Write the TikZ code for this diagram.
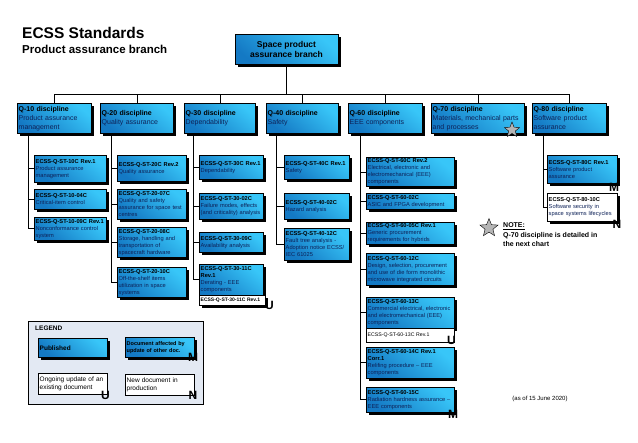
\documentclass[tikz,border=0pt]{standalone}
\usepackage{fontspec}
\setmainfont{Liberation Sans}
\usetikzlibrary{shadows, shapes.geometric, calc}

\definecolor{paLight}{HTML}{38C6F8}
\definecolor{paDark}{HTML}{1479C4}
\definecolor{paText}{HTML}{0E2258}
\definecolor{legendFill}{HTML}{E3E9F3}
\definecolor{starGray}{HTML}{B5B5B5}

\newcommand{\docfont}{\fontsize{5.7}{7}\selectfont}
\newcommand{\discfont}{\fontsize{7}{9}\selectfont}
\newcommand{\docid}[1]{{\bfseries\color{black}#1}}

\begin{document}
\begin{tikzpicture}[x=1pt, y=-1pt,
  pabox/.style={draw=black, line width=0.4pt, top color=paLight, bottom color=paDark, shading angle=-40,
    drop shadow={shadow xshift=2.5pt, shadow yshift=-2.5pt, fill=black, opacity=1},
    inner sep=1.5pt, text=paText},
  disc/.style={pabox, anchor=north west, align=left, minimum height=30pt, font=\discfont, text width=#1},
  stdbox/.style={pabox, anchor=north west, align=left, font=\docfont, text width=#1},
  newbox/.style={draw=black, fill=white, line width=0.4pt, anchor=north west, align=left,
    inner sep=1.5pt, font=\docfont, text=paText, text width=#1},
  flag/.style={font=\bfseries\fontsize{12}{12}\selectfont, inner sep=0pt},
  gstar/.style={star, star points=5, star point ratio=2.3, draw=black, fill=starGray, inner sep=0pt}]
  \useasboundingbox (0,0) rectangle (638,443);

  % Title
  \node[anchor=base west, inner sep=0, font=\bfseries\fontsize{15.5}{18}\selectfont] (title) at (22,39) {ECSS Standards};
  \node[anchor=base west, inner sep=0, font=\bfseries\fontsize{11.5}{14}\selectfont] (subtitle) at (22,54) {Product assurance branch};

  % Branch and disciplines
  \node[pabox, align=center, minimum width=103pt, minimum height=30pt, text=black,
    font=\bfseries\fontsize{8.5}{10}\selectfont] (root) at (286.5,49.5) {Space product\\assurance branch};

  \node[disc=71pt] (q10) at (17,103) {\docid{Q-10 discipline}\\Product assurance\\management};
  \node[disc=70pt] (q20) at (100,103) {\docid{Q-20 discipline}\\Quality assurance};
  \node[disc=68pt] (q30) at (184,103) {\docid{Q-30 discipline}\\Dependability};
  \node[disc=69pt] (q40) at (266,103) {\docid{Q-40 discipline}\\Safety};
  \node[disc=71pt] (q60) at (348,103) {\docid{Q-60 discipline}\\EEE components};
  \node[disc=90pt] (q70) at (431,103) {\docid{Q-70 discipline}\\Materials, mechanical parts\\and processes};
  \node[disc=71pt] (q80) at (532,103) {\docid{Q-80 discipline}\\Software product\\assurance};
  \node[gstar, minimum size=16pt] (q70star) at (512,130) {};

  \foreach \d in {q10,q20,q30,q40,q60,q70,q80}
    \draw (root.south) -- ++(0,29.5) -| (\d.north);

  % Q-10
  \node[stdbox=69pt, minimum height=27pt] (c10a) at (34,155) {\docid{ECSS-Q-ST-10C Rev.1}\\Product assurance\\management};
  \node[stdbox=69pt, minimum height=20pt] (c10b) at (34,189) {\docid{ECSS-Q-ST-10-04C}\\Critical-item control};
  \node[stdbox=69pt, minimum height=23pt] (c10c) at (34,217) {\docid{ECSS-Q-ST-10-09C Rev.1}\\Nonconformance control\\system};

  % Q-20
  \node[stdbox=66pt, minimum height=26pt] (c20a) at (117,155) {\docid{ECSS-Q-ST-20C Rev.2}\\Quality assurance};
  \node[stdbox=66pt, minimum height=30pt] (c20b) at (117,189) {\docid{ECSS-Q-ST-20-07C}\\Quality and safety\\assurance for space test\\centres};
  \node[stdbox=66pt, minimum height=30pt] (c20c) at (117,227) {\docid{ECSS-Q-ST-20-08C}\\Storage, handling and\\transportation of\\spacecraft hardware};
  \node[stdbox=66pt, minimum height=30pt] (c20d) at (117,267) {\docid{ECSS-Q-ST-20-10C}\\Off-the-shelf items\\utilization in space\\systems};

  % Q-30
  \node[stdbox=61pt, minimum height=24pt] (c30a) at (199,155) {\docid{ECSS-Q-ST-30C Rev.1}\\Dependability};
  \node[stdbox=61pt, minimum height=26pt] (c30b) at (199,193) {\docid{ECSS-Q-ST-30-02C}\\Failure modes, effects\\(and criticality) analysis};
  \node[stdbox=61pt, minimum height=20pt] (c30c) at (199,232) {\docid{ECSS-Q-ST-30-09C}\\Availability analysis};
  \node[stdbox=61pt, minimum height=31pt] (c30d) at (199,264) {\docid{ECSS-Q-ST-30-11C}\\\docid{Rev.1}\\Derating - EEE\\components};
  \node[newbox=63pt, minimum height=10pt, font=\bfseries\fontsize{5}{6}\selectfont, text=black,
    drop shadow={shadow xshift=2.5pt, shadow yshift=-2.5pt, fill=black, opacity=1}] (c30u) at (199,295) {ECSS-Q-ST-30-11C Rev.1};
  \node[flag] (flagc30) at (269.5,305) {U};

  % Q-40
  \node[stdbox=62pt, minimum height=24pt] (c40a) at (284,155) {\docid{ECSS-Q-ST-40C Rev.1}\\Safety};
  \node[stdbox=62pt, minimum height=26pt] (c40b) at (284,193) {\docid{ECSS-Q-ST-40-02C}\\Hazard analysis};
  \node[stdbox=62pt, minimum height=32pt] (c40c) at (284,228) {\docid{ECSS-Q-ST-40-12C}\\Fault tree analysis -\\Adoption notice ECSS/\\IEC 61025};

  % Q-60
  \node[stdbox=85pt, minimum height=28pt] (c60a) at (366,157) {\docid{ECSS-Q-ST-60C Rev.2}\\Electrical, electronic and\\electromechanical (EEE)\\components};
  \node[stdbox=85pt, minimum height=16pt] (c60b) at (366,193) {\docid{ECSS-Q-ST-60-02C}\\ASIC and FPGA development};
  \node[stdbox=85pt, minimum height=21pt] (c60c) at (366,222) {\docid{ECSS-Q-ST-60-05C Rev.1}\\Generic procurement\\requirements for hybrids};
  \node[stdbox=85pt, minimum height=32pt] (c60d) at (366,253) {\docid{ECSS-Q-ST-60-12C}\\Design, selection, procurement\\and use of die form monolithic\\microwave integrated circuits};
  \node[stdbox=85pt, minimum height=31pt] (c60e) at (366,297) {\docid{ECSS-Q-ST-60-13C}\\Commercial electrical, electronic\\and electromechanical (EEE)\\components};
  \node[newbox=85pt, minimum height=14pt, font=\fontsize{5.2}{6}\selectfont, text=black] (c60u) at (366,328) {ECSS-Q-ST-60-13C Rev.1};
  \node[flag] (flagc60u) at (451.5,340) {U};
  \node[stdbox=85pt, minimum height=31pt] (c60f) at (366,347) {\docid{ECSS-Q-ST-60-14C Rev.1}\\\docid{Corr.1}\\Relifing procedure -- EEE\\components};
  \node[stdbox=85pt, minimum height=25pt] (c60g) at (366,387) {\docid{ECSS-Q-ST-60-15C}\\Radiation hardness assurance --\\EEE components};
  \node[flag] (flagc60m) at (453,414.5) {M};

  % Q-80
  \node[stdbox=67pt, minimum height=28pt] (c80a) at (547,155) {\docid{ECSS-Q-ST-80C Rev.1}\\Software product\\assurance};
  \node[flag] (flagc80m) at (614,187) {M};
  \node[newbox=67pt, minimum height=28pt,
    drop shadow={shadow xshift=2.5pt, shadow yshift=-2.5pt, fill=black, opacity=1}] (c80b) at (547,193) {\docid{ECSS-Q-ST-80-10C}\\Software security in\\space systems lifecycles};
  \node[flag] (flagc80n) at (617,224.5) {N};

  % Trunks
  \foreach \c in {c10a,c10b,c10c} \draw ([xshift=11pt]q10.south west) |- (\c.west);
  \foreach \c in {c20a,c20b,c20c,c20d} \draw ([xshift=11pt]q20.south west) |- (\c.west);
  \foreach \c in {c30a,c30b,c30c,c30d} \draw ([xshift=9pt]q30.south west) |- (\c.west);
  \foreach \c in {c40a,c40b,c40c} \draw ([xshift=10pt]q40.south west) |- (\c.west);
  \foreach \c in {c60a,c60b,c60c,c60d,c60e,c60f,c60g} \draw ([xshift=12pt]q60.south west) |- (\c.west);
  \foreach \c in {c80a,c80b} \draw ([xshift=11pt]q80.south west) |- (\c.west);

  % Note
  \node[gstar, minimum size=19pt] (notestar) at (489,228) {};
  \node[anchor=north west, align=left, inner sep=0, font=\bfseries\fontsize{7}{9.5}\selectfont] (note) at (503,222.5)
    {\underline{NOTE:}\\Q-70 discipline is detailed in\\the next chart};
  \node[font=\fontsize{6}{7}\selectfont] (asof) at (540,399) {(as of 15 June 2020)};

  % Legend
  \draw[fill=legendFill, line width=0.5pt] (28,321) rectangle (203,404);
  \node[anchor=base west, inner sep=0, font=\bfseries\fontsize{6.5}{8}\selectfont] (legendtitle) at (35,331) {LEGEND};
  \node[stdbox=66pt, minimum height=19pt, text=black, font=\bfseries\fontsize{6.5}{8}\selectfont] (lgpub) at (38,338) {Published};
  \node[stdbox=66pt, minimum height=20pt, text=black, font=\bfseries\fontsize{5.5}{7}\selectfont] (lgmod) at (125,337) {Document affected by\\update of other doc.};
  \node[flag] (flaglgm) at (193,357.5) {M};
  \node[newbox=66pt, minimum height=21pt, text=black, font=\fontsize{6.5}{8}\selectfont] (lgupd) at (38,373) {Ongoing update of an\\existing document};
  \node[flag] (flaglgu) at (105.5,395.5) {U};
  \node[newbox=66pt, minimum height=21pt, text=black, font=\fontsize{6.5}{8}\selectfont] (lgnew) at (125,374) {New document in\\production};
  \node[flag] (flaglgn) at (193,395) {N};
\end{tikzpicture}
\end{document}
